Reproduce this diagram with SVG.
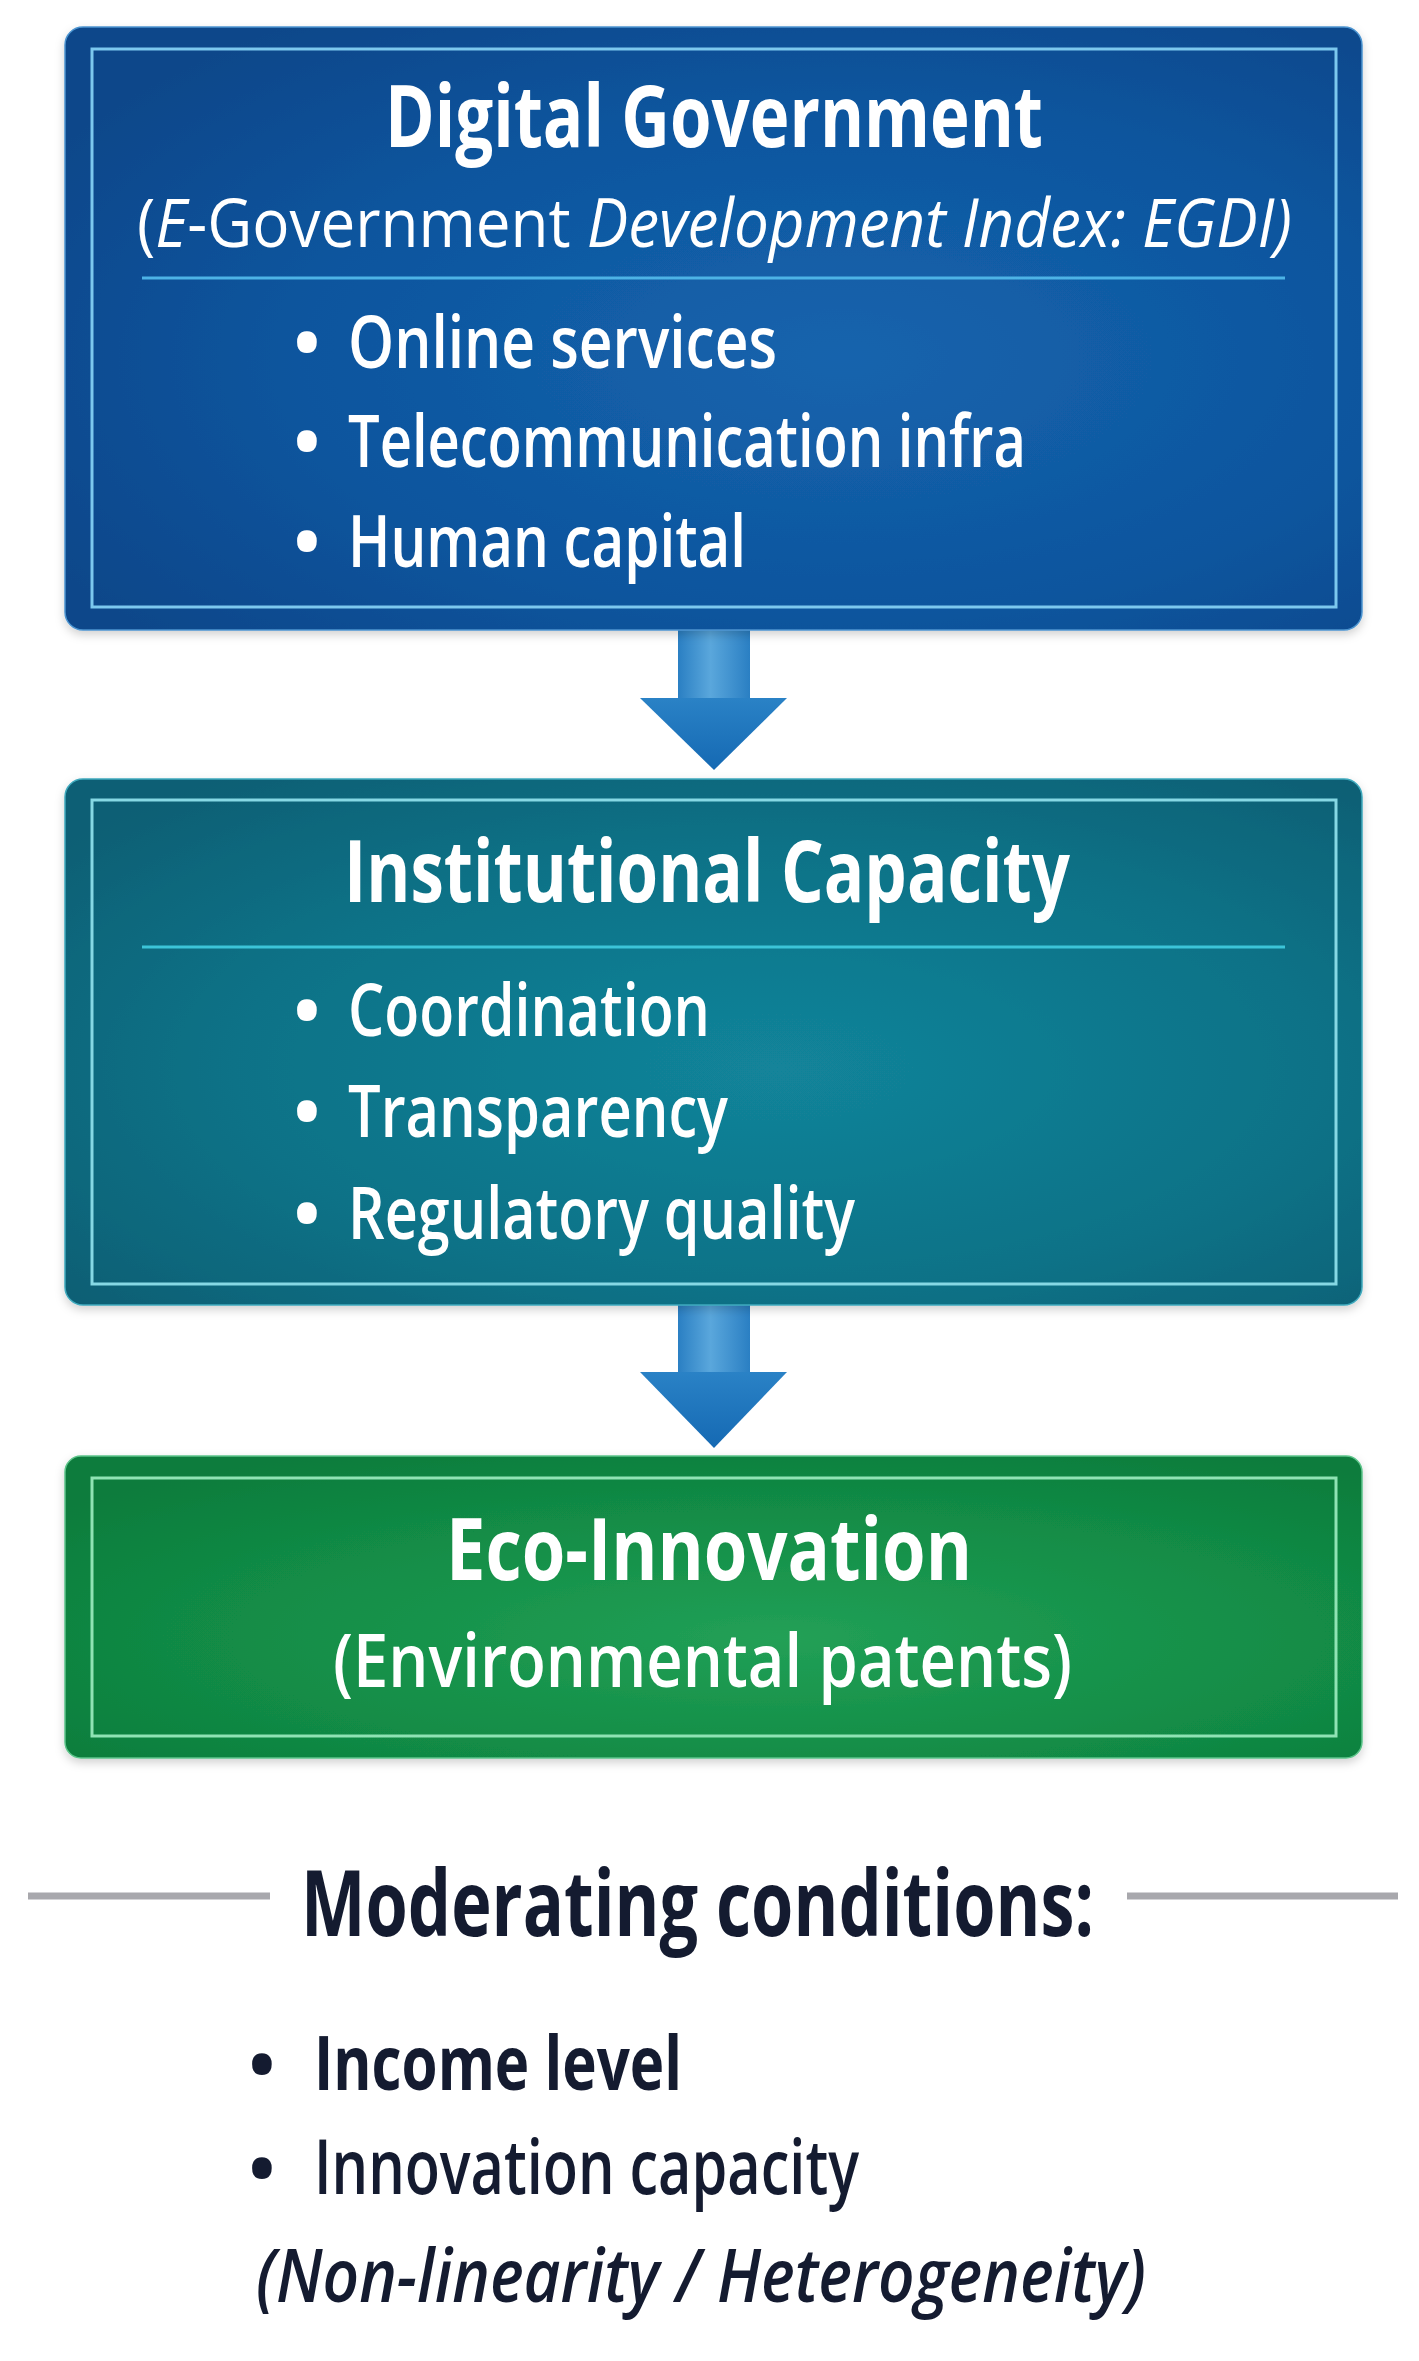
<svg xmlns="http://www.w3.org/2000/svg" width="1419" height="2361" viewBox="0 0 1419 2361">
<defs>
  <radialGradient id="gBlue" cx="0.6" cy="0.55" r="0.7">
    <stop offset="0" stop-color="#1564ad"/>
    <stop offset="0.6" stop-color="#0e559e"/>
    <stop offset="1" stop-color="#09478a"/>
  </radialGradient>
  <radialGradient id="gTeal" cx="0.55" cy="0.55" r="0.7">
    <stop offset="0" stop-color="#12849a"/>
    <stop offset="0.6" stop-color="#0e7287"/>
    <stop offset="1" stop-color="#0a5f74"/>
  </radialGradient>
  <radialGradient id="gGreen" cx="0.55" cy="0.6" r="0.7">
    <stop offset="0" stop-color="#22a056"/>
    <stop offset="0.6" stop-color="#128c46"/>
    <stop offset="1" stop-color="#0d7c3c"/>
  </radialGradient>
  <linearGradient id="gShaft" x1="0" y1="0" x2="1" y2="0">
    <stop offset="0" stop-color="#2a7fc3"/>
    <stop offset="0.45" stop-color="#5aa7dc"/>
    <stop offset="1" stop-color="#2a7fc3"/>
  </linearGradient>
  <linearGradient id="gHead" x1="0" y1="0" x2="0" y2="1">
    <stop offset="0" stop-color="#2a82c6"/>
    <stop offset="1" stop-color="#1569b3"/>
  </linearGradient>
  <filter id="shadow" x="-5%" y="-5%" width="110%" height="115%">
    <feDropShadow dx="0" dy="4" stdDeviation="5" flood-color="#000" flood-opacity="0.18"/>
  </filter>
  <style>
    text { font-family: "Open Sans", "Liberation Sans", sans-serif; }
    .w { fill: #ffffff; }
    .d { fill: #141b30; }
    .title { font-size: 86px; font-weight: 700; }
    .sub { font-size: 68px; font-weight: 500; }
    .it { font-style: italic; }
    .item { font-size: 72px; font-weight: 600; }
    .bul { font-size: 70px; font-weight: 700; text-anchor: middle; }
    .frame { stroke-width: 3; fill: none; }
  </style>
</defs>

<rect width="1419" height="2361" fill="#ffffff"/>

<g id="connectors">
  <g id="arrow1">
    <rect x="678" y="628" width="72" height="72" fill="url(#gShaft)"/>
    <polygon points="640,698 787,698 714,770" fill="url(#gHead)"/>
  </g>
  <g id="arrow2">
    <rect x="678" y="1303" width="72" height="71" fill="url(#gShaft)"/>
    <polygon points="640,1372 787,1372 714,1448" fill="url(#gHead)"/>
  </g>
</g>

<g id="node-digital-government">
  <rect x="65" y="27" width="1297" height="603" rx="18" fill="url(#gBlue)" stroke="#4c94d0" stroke-width="1.5" filter="url(#shadow)"/>
  <rect x="92" y="49" width="1244" height="558" class="frame" stroke="#7cc8ee"/>
  <text class="w title" x="385" y="147" textLength="658" lengthAdjust="spacingAndGlyphs">Digital Government</text>
  <text class="w sub" x="137" y="247" textLength="1155" lengthAdjust="spacingAndGlyphs">(<tspan class="it">E</tspan>-Government <tspan class="it">Development Index: EGDI)</tspan></text>
  <line x1="142" y1="278" x2="1285" y2="278" stroke="#4db3e6" stroke-width="3"/>
  <text class="w bul" x="307" y="368">•</text>
  <text class="w item" x="348" y="368" textLength="429" lengthAdjust="spacingAndGlyphs">Online services</text>
  <text class="w bul" x="307" y="467">•</text>
  <text class="w item" x="348" y="467" textLength="678" lengthAdjust="spacingAndGlyphs">Telecommunication infra</text>
  <text class="w bul" x="307" y="567">•</text>
  <text class="w item" x="348" y="567" textLength="398" lengthAdjust="spacingAndGlyphs">Human capital</text>
</g>

<g id="node-institutional-capacity">
  <rect x="65" y="779" width="1297" height="526" rx="18" fill="url(#gTeal)" stroke="#3fa9bd" stroke-width="1.5" filter="url(#shadow)"/>
  <rect x="92" y="800" width="1244" height="484" class="frame" stroke="#86d8e4"/>
  <text class="w title" x="344" y="902" textLength="726" lengthAdjust="spacingAndGlyphs">Institutional Capacity</text>
  <line x1="142" y1="947" x2="1285" y2="947" stroke="#3cc4d8" stroke-width="3"/>
  <text class="w bul" x="307" y="1036">•</text>
  <text class="w item" x="348" y="1036" textLength="362" lengthAdjust="spacingAndGlyphs">Coordination</text>
  <text class="w bul" x="307" y="1137">•</text>
  <text class="w item" x="348" y="1137" textLength="380" lengthAdjust="spacingAndGlyphs">Transparency</text>
  <text class="w bul" x="307" y="1239">•</text>
  <text class="w item" x="348" y="1239" textLength="507" lengthAdjust="spacingAndGlyphs">Regulatory quality</text>
</g>

<g id="node-eco-innovation">
  <rect x="65" y="1456" width="1297" height="302" rx="16" fill="url(#gGreen)" stroke="#5cc48a" stroke-width="1.5" filter="url(#shadow)"/>
  <rect x="92" y="1478" width="1244" height="258" class="frame" stroke="#8fe3b4"/>
  <text class="w title" x="446" y="1580" textLength="526" lengthAdjust="spacingAndGlyphs">Eco-Innovation</text>
  <text class="w" x="333" y="1687" font-size="74" font-weight="600" textLength="739" lengthAdjust="spacingAndGlyphs">(Environmental patents)</text>
</g>

<g id="moderating-conditions">
  <line x1="28" y1="1896" x2="270" y2="1896" stroke="#a8a8ad" stroke-width="7"/>
  <line x1="1127" y1="1896" x2="1398" y2="1896" stroke="#a8a8ad" stroke-width="7"/>
  <text class="d" x="301" y="1936" font-size="92" font-weight="700" textLength="793" lengthAdjust="spacingAndGlyphs">Moderating conditions:</text>
  <text class="d bul" x="262" y="2090">•</text>
  <text class="d" x="314" y="2090" font-size="76" font-weight="700" textLength="368" lengthAdjust="spacingAndGlyphs">Income level</text>
  <text class="d bul" x="262" y="2194">•</text>
  <text class="d" x="314" y="2194" font-size="76" font-weight="600" textLength="545" lengthAdjust="spacingAndGlyphs">Innovation capacity</text>
  <text class="d" x="256" y="2302" font-size="74" font-weight="600" font-style="italic" textLength="890" lengthAdjust="spacingAndGlyphs">(Non-linearity / Heterogeneity)</text>
</g>
</svg>
